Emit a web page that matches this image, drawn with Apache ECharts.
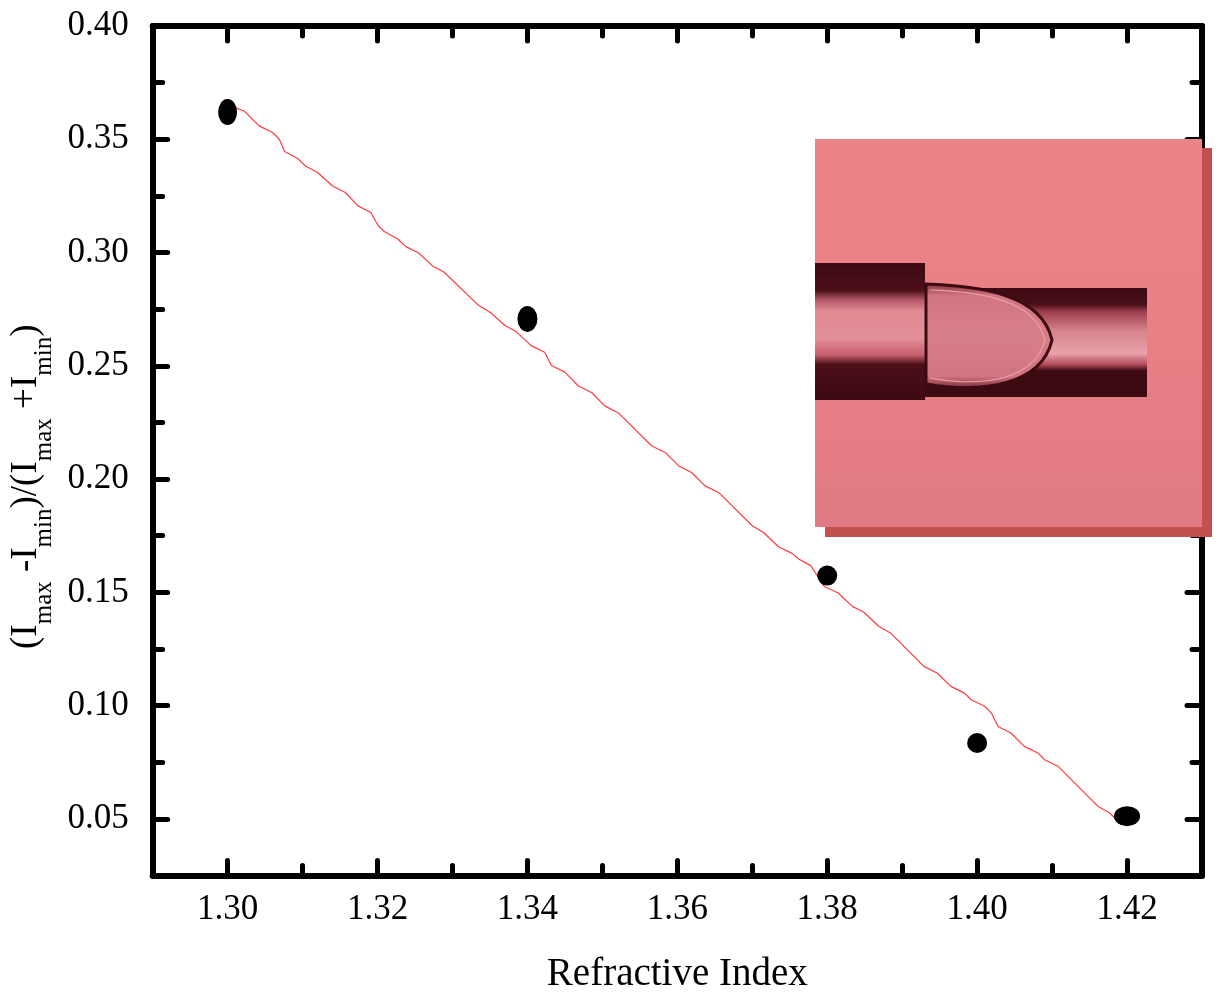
<!DOCTYPE html>
<html>
<head>
<meta charset="utf-8">
<script src="https://cdn.jsdelivr.net/npm/echarts@6/dist/echarts.min.js"></script>
<style>
html,body{margin:0;padding:0;background:#fff;}
#chart{width:1222px;height:1000px;}
</style>
</head>
<body>
<div id="chart"></div>
<script>
// ---- data ----
const xTicks = [1.30, 1.32, 1.34, 1.36, 1.38, 1.40, 1.42];
const xMinorTicks = [1.31, 1.33, 1.35, 1.37, 1.39, 1.41];
const yTicks = [0.05, 0.10, 0.15, 0.20, 0.25, 0.30, 0.35, 0.40];
const yMinorTicks = [0.075, 0.125, 0.175, 0.225, 0.275, 0.325, 0.375];

const refractiveIndex = [1.30, 1.34, 1.38, 1.40, 1.42];
const contrast = [0.3620, 0.2707, 0.1574, 0.0835, 0.0512];

const fitX = [1.2995,1.3008,1.3022,1.3042,1.3060,1.3069,1.3076,1.3093,1.3104,1.3120,
  1.3140,1.3157,1.3174,1.3191,1.3201,1.3209,1.3227,1.3238,1.3255,1.3273,
  1.3289,1.3334,1.3351,1.3370,1.3385,1.3405,1.3423,1.3432,1.3450,1.3468,
  1.3486,1.3503,1.3521,1.3566,1.3584,1.3602,1.3619,1.3637,1.3655,1.3700,
  1.3715,1.3735,1.3753,1.3762,1.3778,1.3789,1.3796,1.3814,1.3834,1.3849,
  1.3869,1.3885,1.3929,1.3947,1.3965,1.3983,1.3992,1.4010,1.4019,1.4028,
  1.4045,1.4063,1.4081,1.4090,1.4108,1.4161,1.4177,1.4192];
const fitY = [0.3676,0.3642,0.3625,0.3559,0.3530,0.3500,0.3446,0.3416,0.3382,0.3353,
  0.3294,0.3265,0.3206,0.3177,0.3118,0.3093,0.3060,0.3026,0.2998,0.2942,
  0.2913,0.2769,0.2734,0.2678,0.2651,0.2589,0.2560,0.2501,0.2472,0.2411,
  0.2381,0.2323,0.2293,0.2146,0.2117,0.2058,0.2029,0.1970,0.1941,0.1794,
  0.1764,0.1701,0.1672,0.1647,0.1618,0.1562,0.1526,0.1498,0.1437,0.1412,
  0.1349,0.1319,0.1173,0.1143,0.1085,0.1055,0.1026,0.0997,0.0967,0.0908,
  0.0879,0.0820,0.0791,0.0761,0.0732,0.0556,0.0526,0.0475];

const dotSizes = [[19, 26], [20, 26], [20, 20], [20, 20], [26, 20]];

const xName = 'Refractive Index';

// ---- chart ----
const chart = echarts.init(document.getElementById('chart'), null, {renderer: 'canvas'});
const FONT = 'Liberation Serif';
const X_MIN = 1.29, X_MAX = 1.43, Y_MIN = 0.025, Y_MAX = 0.40;

function axis(kind, position, ticks, tickLen, withLabel, withLine) {
  const isX = kind === 'x';
  return {
    type: 'value',
    gridIndex: 0,
    position: position,
    min: isX ? X_MIN : Y_MIN,
    max: isX ? X_MAX : Y_MAX,
    splitLine: {show: false},
    axisLine: {show: withLine, onZero: false,
      lineStyle: {color: '#000', width: 6, cap: 'round'}},
    axisTick: {show: true, inside: true, length: tickLen, customValues: ticks,
      lineStyle: {color: '#000', width: 5, cap: 'round'}},
    axisLabel: withLabel ? {
      show: true, customValues: ticks,
      formatter: v => Number(v).toFixed(2),
      fontFamily: FONT, fontSize: 35, color: '#000',
      margin: isX ? 17 : 24
    } : {show: false}
  };
}

const xAxes = [
  Object.assign(axis('x', 'bottom', xTicks, 15, true, true), {
    name: xName, nameLocation: 'middle', nameGap: 80,
    nameTextStyle: {fontFamily: FONT, fontSize: 39, color: '#000', lineHeight: 39}
  }),
  axis('x', 'bottom', xMinorTicks, 10, false, false),
  axis('x', 'top', xTicks, 15, false, true),
  axis('x', 'top', xMinorTicks, 10, false, false)
];
const yAxes = [
  Object.assign(axis('y', 'left', yTicks, 15, true, true), {
    name: '(I{s|max} -I{s|min})/(I{s|max} +I{s|min})',
    nameLocation: 'middle', nameGap: 86,
    nameTextStyle: {
      fontFamily: FONT, fontSize: 37, color: '#000', padding: [0, 72, 0, 0],
      rich: {
        s: {fontFamily: FONT, fontSize: 25, color: '#000', verticalAlign: 'bottom', lineHeight: 60}
      }
    }
  }),
  axis('y', 'left', yMinorTicks, 10, false, false),
  axis('y', 'right', yTicks, 15, false, true),
  axis('y', 'right', yMinorTicks, 10, false, false)
];

const fitData = fitX.map((x, i) => [x, fitY[i]]);
const dotData = refractiveIndex.map((x, i) => [x, contrast[i]]);

// inset photograph (decoration drawn as shapes)
const Z = 100;
const lg = (stops) => new echarts.graphic.LinearGradient(0, 0, 0, 1,
  stops.map(s => ({offset: s[0], color: s[1]})));
function bez(p0, p1, p2, p3, n) {
  const pts = [];
  for (let i = 0; i <= n; i++) {
    const t = i / n, u = 1 - t;
    pts.push([
      u*u*u*p0[0] + 3*u*u*t*p1[0] + 3*u*t*t*p2[0] + t*t*t*p3[0],
      u*u*u*p0[1] + 3*u*u*t*p1[1] + 3*u*t*t*p2[1] + t*t*t*p3[1]
    ]);
  }
  return pts;
}
const uOuter = bez([926, 284], [985, 286], [1042, 296], [1052, 340], 16)
  .concat(bez([1052, 340], [1042, 384], [985, 394], [926, 384], 16).slice(1));
const uInner = bez([930, 290], [985, 292], [1035, 301], [1045, 340], 16)
  .concat(bez([1045, 340], [1035, 379], [985, 388], [930, 378], 16).slice(1));

const option = {
  backgroundColor: '#fff',
  animation: false,
  grid: {left: 152, right: 20, top: 26, bottom: 124.5, containLabel: false},
  xAxis: xAxes,
  yAxis: yAxes,
  series: [
    {
      type: 'line', data: fitData, xAxisIndex: 0, yAxisIndex: 0,
      showSymbol: false, symbol: 'none', z: 2,
      lineStyle: {color: '#ff3b3b', width: 1.2}
    },
    {
      type: 'scatter', data: dotData, xAxisIndex: 0, yAxisIndex: 0, z: 3,
      symbol: 'circle',
      symbolSize: (v, p) => dotSizes[p.dataIndex],
      itemStyle: {color: '#000', opacity: 1}
    }
  ],
  graphic: [
    {type: 'rect', z: Z, shape: {x: 825, y: 148, width: 387, height: 389},
      style: {fill: '#c1504e'}},
    {type: 'rect', z: Z + 1, shape: {x: 815, y: 139, width: 387, height: 388},
      style: {fill: lg([[0, '#eb8488'], [0.5, '#e88085'], [1, '#e07a83']])}},
    {type: 'rect', z: Z + 2, shape: {x: 815, y: 263, width: 110, height: 137},
      style: {fill: lg([[0, '#3d0a12'], [0.2, '#4c1019'], [0.27, '#b45868'], [0.35, '#e08a92'],
        [0.55, '#e4909a'], [0.67, '#c8606e'], [0.74, '#4c1019'], [1, '#3d0a12']])}},
    {type: 'rect', z: Z + 2, shape: {x: 925, y: 288, width: 222, height: 109},
      style: {fill: lg([[0, '#3d0a12'], [0.15, '#4a0f18'], [0.22, '#a04050'], [0.4, '#d8848e'],
        [0.6, '#e9a2aa'], [0.7, '#b24c5c'], [0.76, '#3d0a12'], [1, '#3d0a12']])}},
    {type: 'polygon', z: Z + 3, shape: {points: uOuter},
      style: {fill: lg([[0, '#7a2a38'], [0.12, '#d27482'], [0.5, '#d8808a'], [0.88, '#d27482'], [1, '#7a2a38']]),
        stroke: '#3d0a12', lineWidth: 3}},
    {type: 'polyline', z: Z + 4, shape: {points: uInner},
      style: {stroke: '#e7a0a8', lineWidth: 1.2}}
  ]
};
chart.setOption(option);
</script>
</body>
</html>
